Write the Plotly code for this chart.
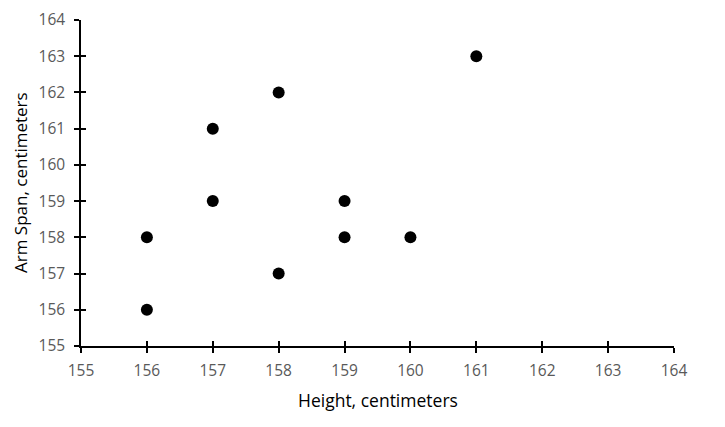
import plotly.graph_objects as go

height_cm = [156, 156, 157, 157, 158, 158, 159, 159, 160, 161]
arm_span_cm = [158, 156, 161, 159, 162, 157, 159, 158, 158, 163]
tick_vals = list(range(155, 165))
x_title = "Height, centimeters"
y_title = "Arm Span, centimeters"

fig = go.Figure()
fig.add_trace(go.Scatter(x=height_cm, y=arm_span_cm, mode="markers",
                         marker=dict(color="black", size=12), showlegend=False))
fig.add_trace(go.Scatter(x=[155], y=[155], xaxis="x2", yaxis="y2", mode="markers",
                         marker=dict(opacity=0), showlegend=False, hoverinfo="skip"))

font_fam = "Open Sans, Liberation Sans, sans-serif"
common = dict(range=[155, 164], tickvals=tick_vals, showgrid=False, zeroline=False,
              showline=True, linecolor="black", linewidth=1.5, ticks="outside",
              ticklen=5, tickwidth=1.5, tickcolor="black", automargin=False,
              tickfont=dict(family=font_fam, size=15.5, color="#595959"))
fig.update_layout(
    width=717, height=419,
    margin=dict(l=73, r=51, t=12, b=81, autoexpand=False),
    plot_bgcolor="white", paper_bgcolor="white",
    xaxis=dict(**common, ticklabelstandoff=5),
    yaxis=dict(**common, ticklabelstandoff=6),
    xaxis2=dict(range=[155, 164], tickvals=tick_vals, overlaying="x", side="bottom",
                showticklabels=False, ticks="inside", ticklen=5, tickwidth=1.5, tickcolor="black",
                showgrid=False, zeroline=False, showline=False, automargin=False),
    yaxis2=dict(range=[155, 164], tickvals=tick_vals, overlaying="y", side="left",
                showticklabels=False, ticks="inside", ticklen=5, tickwidth=1.5, tickcolor="black",
                showgrid=False, zeroline=False, showline=False, automargin=False),
    annotations=[
        dict(text=x_title, xref="paper", yref="paper", x=0.5, y=0, yshift=-54,
             xanchor="center", yanchor="middle", showarrow=False,
             font=dict(family=font_fam, size=17.5, color="black")),
        dict(text=y_title, xref="paper", yref="paper", x=0, y=0.5, xshift=-61,
             xanchor="center", yanchor="middle", textangle=-90, showarrow=False,
             font=dict(family=font_fam, size=17, color="black")),
    ],
)
fig.write_html("out.html")
